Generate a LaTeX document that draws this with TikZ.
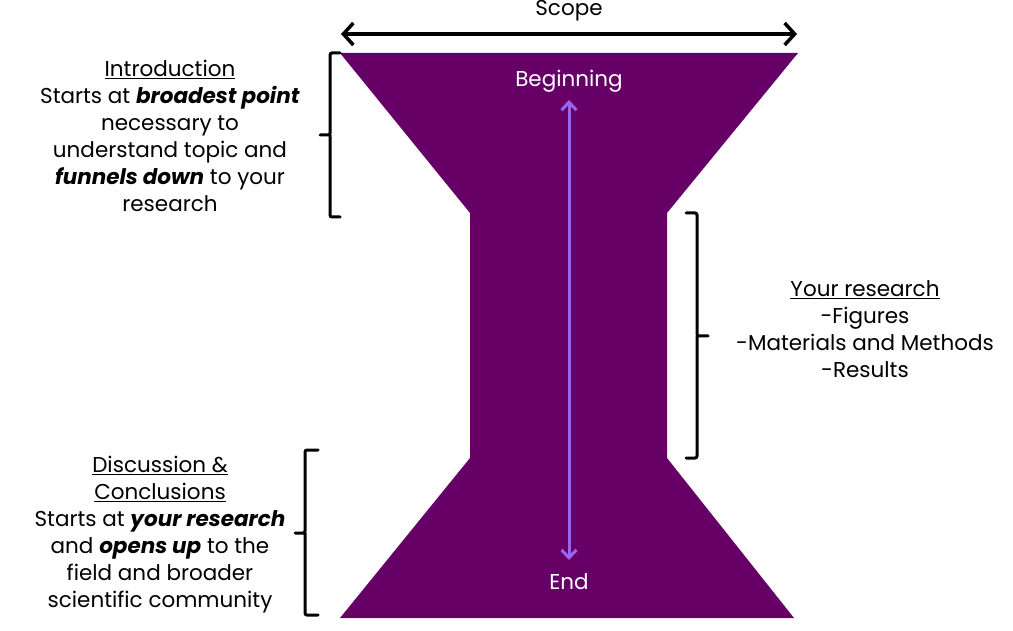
\documentclass[tikz,border=0pt]{standalone}
\usepackage{fontspec}
\setmainfont{Poppins}
\usetikzlibrary{arrows.meta}
\definecolor{funnel}{HTML}{660066}
\definecolor{arrowc}{HTML}{9966EE}
\tikzset{
  txt/.style={align=center, font=\fontsize{21.5}{27}\selectfont, inner sep=0pt},
  brk/.style={draw=black, line width=3pt, rounded corners=2pt, line cap=round},
}
\begin{document}
\begin{tikzpicture}[x=1pt,y=-1pt]
\useasboundingbox (0,0) rectangle (1013,631);
% funnel
\fill[funnel] (340,53) -- (798,53) -- (667,213) -- (667,458) -- (794,618) -- (340,618) -- (470,458) -- (470,213) -- cycle;
% scope arrow
\coordinate (sL) at (341,34);
\coordinate (sR) at (797,34);
\draw[line width=3.5pt, {Straight Barb[length=10pt,width=22pt]}-{Straight Barb[length=10pt,width=22pt]}] (sL) -- (sR);
\node[txt] (scope) at (569,11) {Scope};
% labels inside
\node[txt, text=white] (beg) at (569,81) {Beginning};
\node[txt, text=white] (end) at (569,582) {End};
\coordinate (aT) at (569,100);
\coordinate (aB) at (569,560);
\draw[arrowc, line width=3pt, {Straight Barb[length=8pt,width=15pt]}-{Straight Barb[length=8pt,width=15pt]}] (aT) -- (aB);
% brackets
\draw[brk] (340,53) -- (330,53) -- (330,135) -- (320,135) (330,135) -- (330,217) -- (340,217);
\draw[brk] (686,213) -- (697,213) -- (697,336) -- (708,336) (697,336) -- (697,458) -- (686,458);
\draw[brk] (318,450) -- (305,450) -- (305,533) -- (295,533) (305,533) -- (305,615) -- (318,615);
% text blocks
\node[txt] (intro) at (170,136) {\underline{Introduction}\\Starts at \textbf{\textit{broadest point}}\\necessary to\\understand topic and\\\textbf{\textit{funnels down}} to your\\research};
\node[txt] (yours) at (865,329) {\underline{Your research}\\-Figures\\-Materials and Methods\\-Results};
\node[txt] (disc) at (160,535) {\underline{Discussion \&}\\\underline{Conclusions}\\Starts at \textbf{\textit{your research}}\\and \textbf{\textit{opens up}} to the\\field and broader\\scientific community};
\end{tikzpicture}
\end{document}
